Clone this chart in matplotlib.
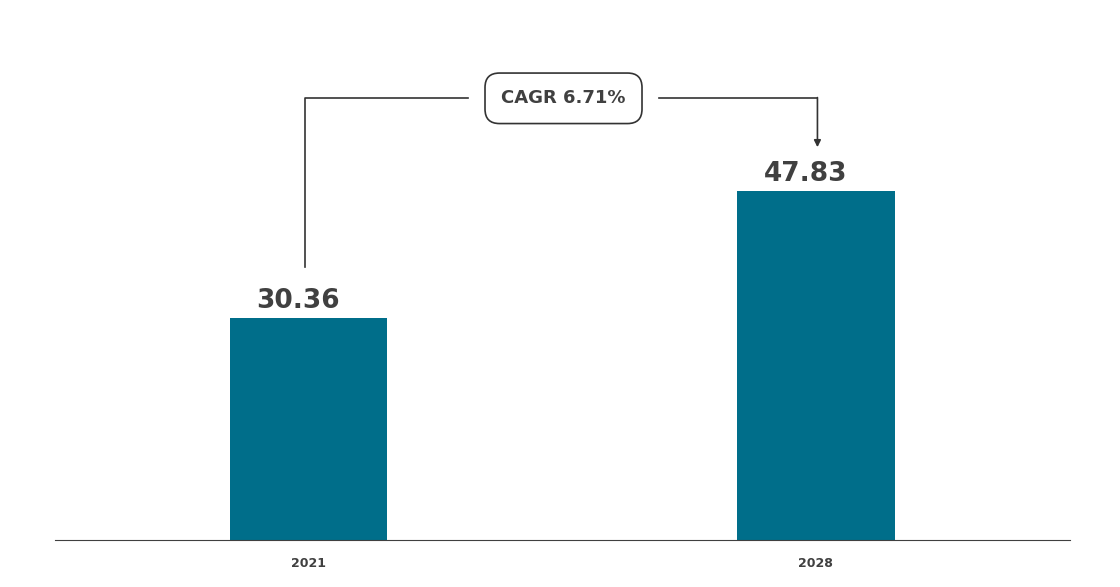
import matplotlib
matplotlib.use('Agg')
import matplotlib.pyplot as plt

years = ['2021', '2028']
values = [30.36, 47.83]
cagr = 'CAGR 6.71%'

BAR = '#006E8A'
TXT = '#404040'

fig = plt.figure(figsize=(11.2, 5.87), dpi=100)
ax = fig.add_axes([0.049, 0.080, 0.906, 0.92])
x = range(len(years))
ax.bar(x, values, width=0.31, color=BAR)
ax.set_xlim(-0.5, 1.5)
ax.set_ylim(0, 74)

for xi, v in zip(x, values):
    ax.text(xi - 0.02, v + 0.6, f'{v:.2f}', ha='center', va='bottom',
            fontsize=19, fontweight='bold', color=TXT)

# CAGR connector
top = values[1] + 12.7
x0, x1 = -0.007, 1.003
ax.plot([x0, x0, 0.315], [values[0] + 7, top, top], color='#333333', lw=1.2)
ax.plot([0.69, x1], [top, top], color='#333333', lw=1.2)
ax.annotate('', xy=(x1, values[1] + 6), xytext=(x1, top + 0.1),
            arrowprops=dict(arrowstyle='-|>', color='#333333', lw=1.2,
                            mutation_scale=10, shrinkA=0, shrinkB=0))
ax.text(0.5025, top, cagr, ha='center', va='center', fontsize=13,
        color=TXT, fontweight='semibold',
        bbox=dict(boxstyle='round,pad=0.9,rounding_size=0.8', fc='white',
                  ec='#333333', lw=1.2))

ax.set_xticks(list(x))
ax.set_xticklabels(years, fontsize=9, fontweight='bold', color=TXT)
ax.tick_params(axis='x', length=0, pad=12)
ax.set_yticks([])
for s in ['top', 'right', 'left']:
    ax.spines[s].set_visible(False)
ax.spines['bottom'].set_color('#404040')

fig.savefig('out.png', dpi=100)
